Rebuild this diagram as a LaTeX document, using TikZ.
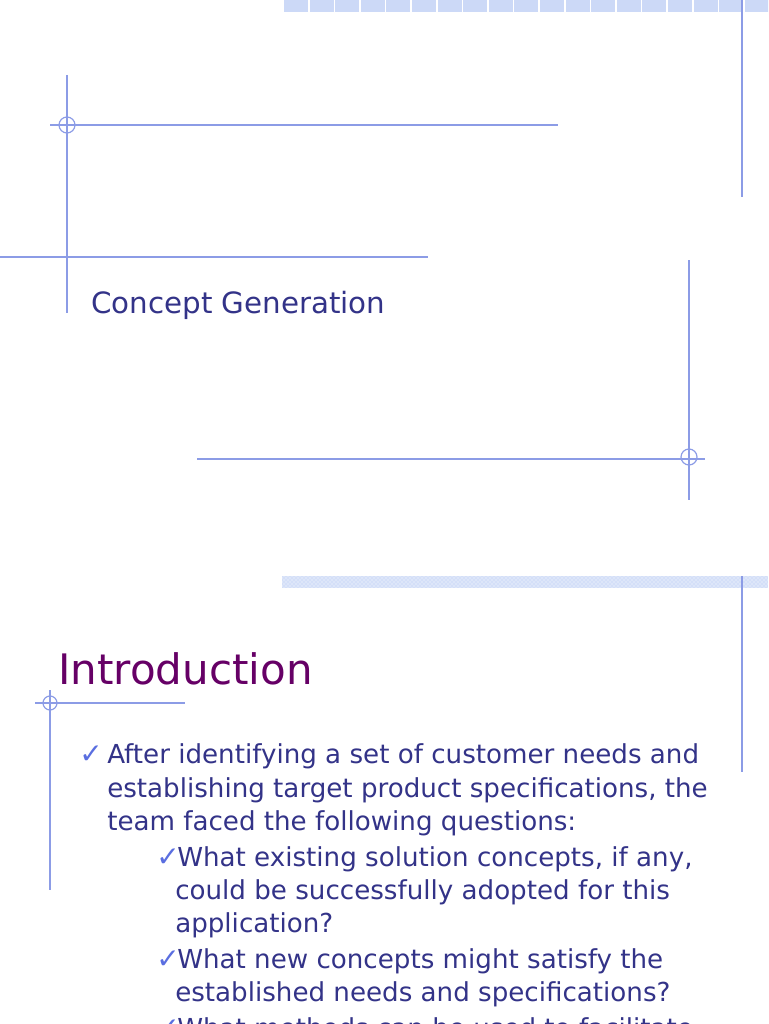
\documentclass[tikz,border=0pt]{standalone}
\usepackage{fontspec}
\setmainfont{DejaVu Sans}
\usetikzlibrary{patterns}
\definecolor{ln}{HTML}{8C9CE6}
\definecolor{txt}{HTML}{333388}
\definecolor{ttl}{HTML}{660066}
\definecolor{bar}{HTML}{CCD9F7}
\definecolor{chk}{HTML}{5A6EE0}
\tikzset{guide/.style={ln,line width=0.9pt},
 body/.style={anchor=base west,inner sep=0,text=txt,font=\fontsize{19.6}{24}\selectfont},
 ck/.style={anchor=base west,inner sep=0,text=chk,font=\fontsize{21}{24}\selectfont}}
\begin{document}
\begin{tikzpicture}[x=0.75pt,y=-0.75pt]
\useasboundingbox (0,0) rectangle (768,1024);
\clip (0,0) rectangle (768,1024);
\foreach \i in {0,...,18}{\fill[bar] ({284+\i*25.6},0) rectangle ({284+\i*25.6+24},12);}
\draw[guide] (742,0) -- (742,197);
\draw[guide] (67,75) -- (67,313);
\draw[guide] (50,125) -- (558,125);
\draw[guide] (67,125) circle (8);
\draw[guide] (0,257) -- (428,257);
\node[anchor=base west,inner sep=0,text=txt,font=\fontsize{22}{26}\selectfont] (t1) at (91,313) {Concept Generation};
\draw[guide] (689,260) -- (689,500);
\draw[guide] (197,459) -- (705,459);
\draw[guide] (689,457) circle (8);
\fill[bar!85] (282,576) rectangle (768,588);
\fill[pattern=crosshatch dots,pattern color=white] (282,576) rectangle (768,588);
\draw[guide] (742,576) -- (742,772);
\node[anchor=base west,inner sep=0,text=ttl,font=\fontsize{31.5}{38}\selectfont] (t2) at (58,684) {Introduction};
\draw[guide] (35,703) -- (185,703);
\draw[guide] (50,703) circle (7);
\draw[guide] (50,690) -- (50,890);
\node[ck] (c1) at (79,763) {✓};
\node[body] (l1) at (107,763) {After identifying a set of customer needs and};
\node[body] (l2) at (107,797) {establishing target product specifications, the};
\node[body] (l3) at (107,830) {team faced the following questions:};
\node[ck] (c2) at (156,866) {✓};
\node[body] (s1) at (177,866) {What existing solution concepts, if any,};
\node[body] (s2) at (175,899) {could be successfully adopted for this};
\node[body] (s3) at (175,932) {application?};
\node[ck] (c3) at (156,968) {✓};
\node[body] (s4) at (177,968) {What new concepts might satisfy the};
\node[body] (s5) at (175,1001) {established needs and specifications?};
\node[ck] (c4) at (156,1037) {✓};
\node[body] (s6) at (177,1037) {What methods can be used to facilitate};
\end{tikzpicture}
\end{document}
